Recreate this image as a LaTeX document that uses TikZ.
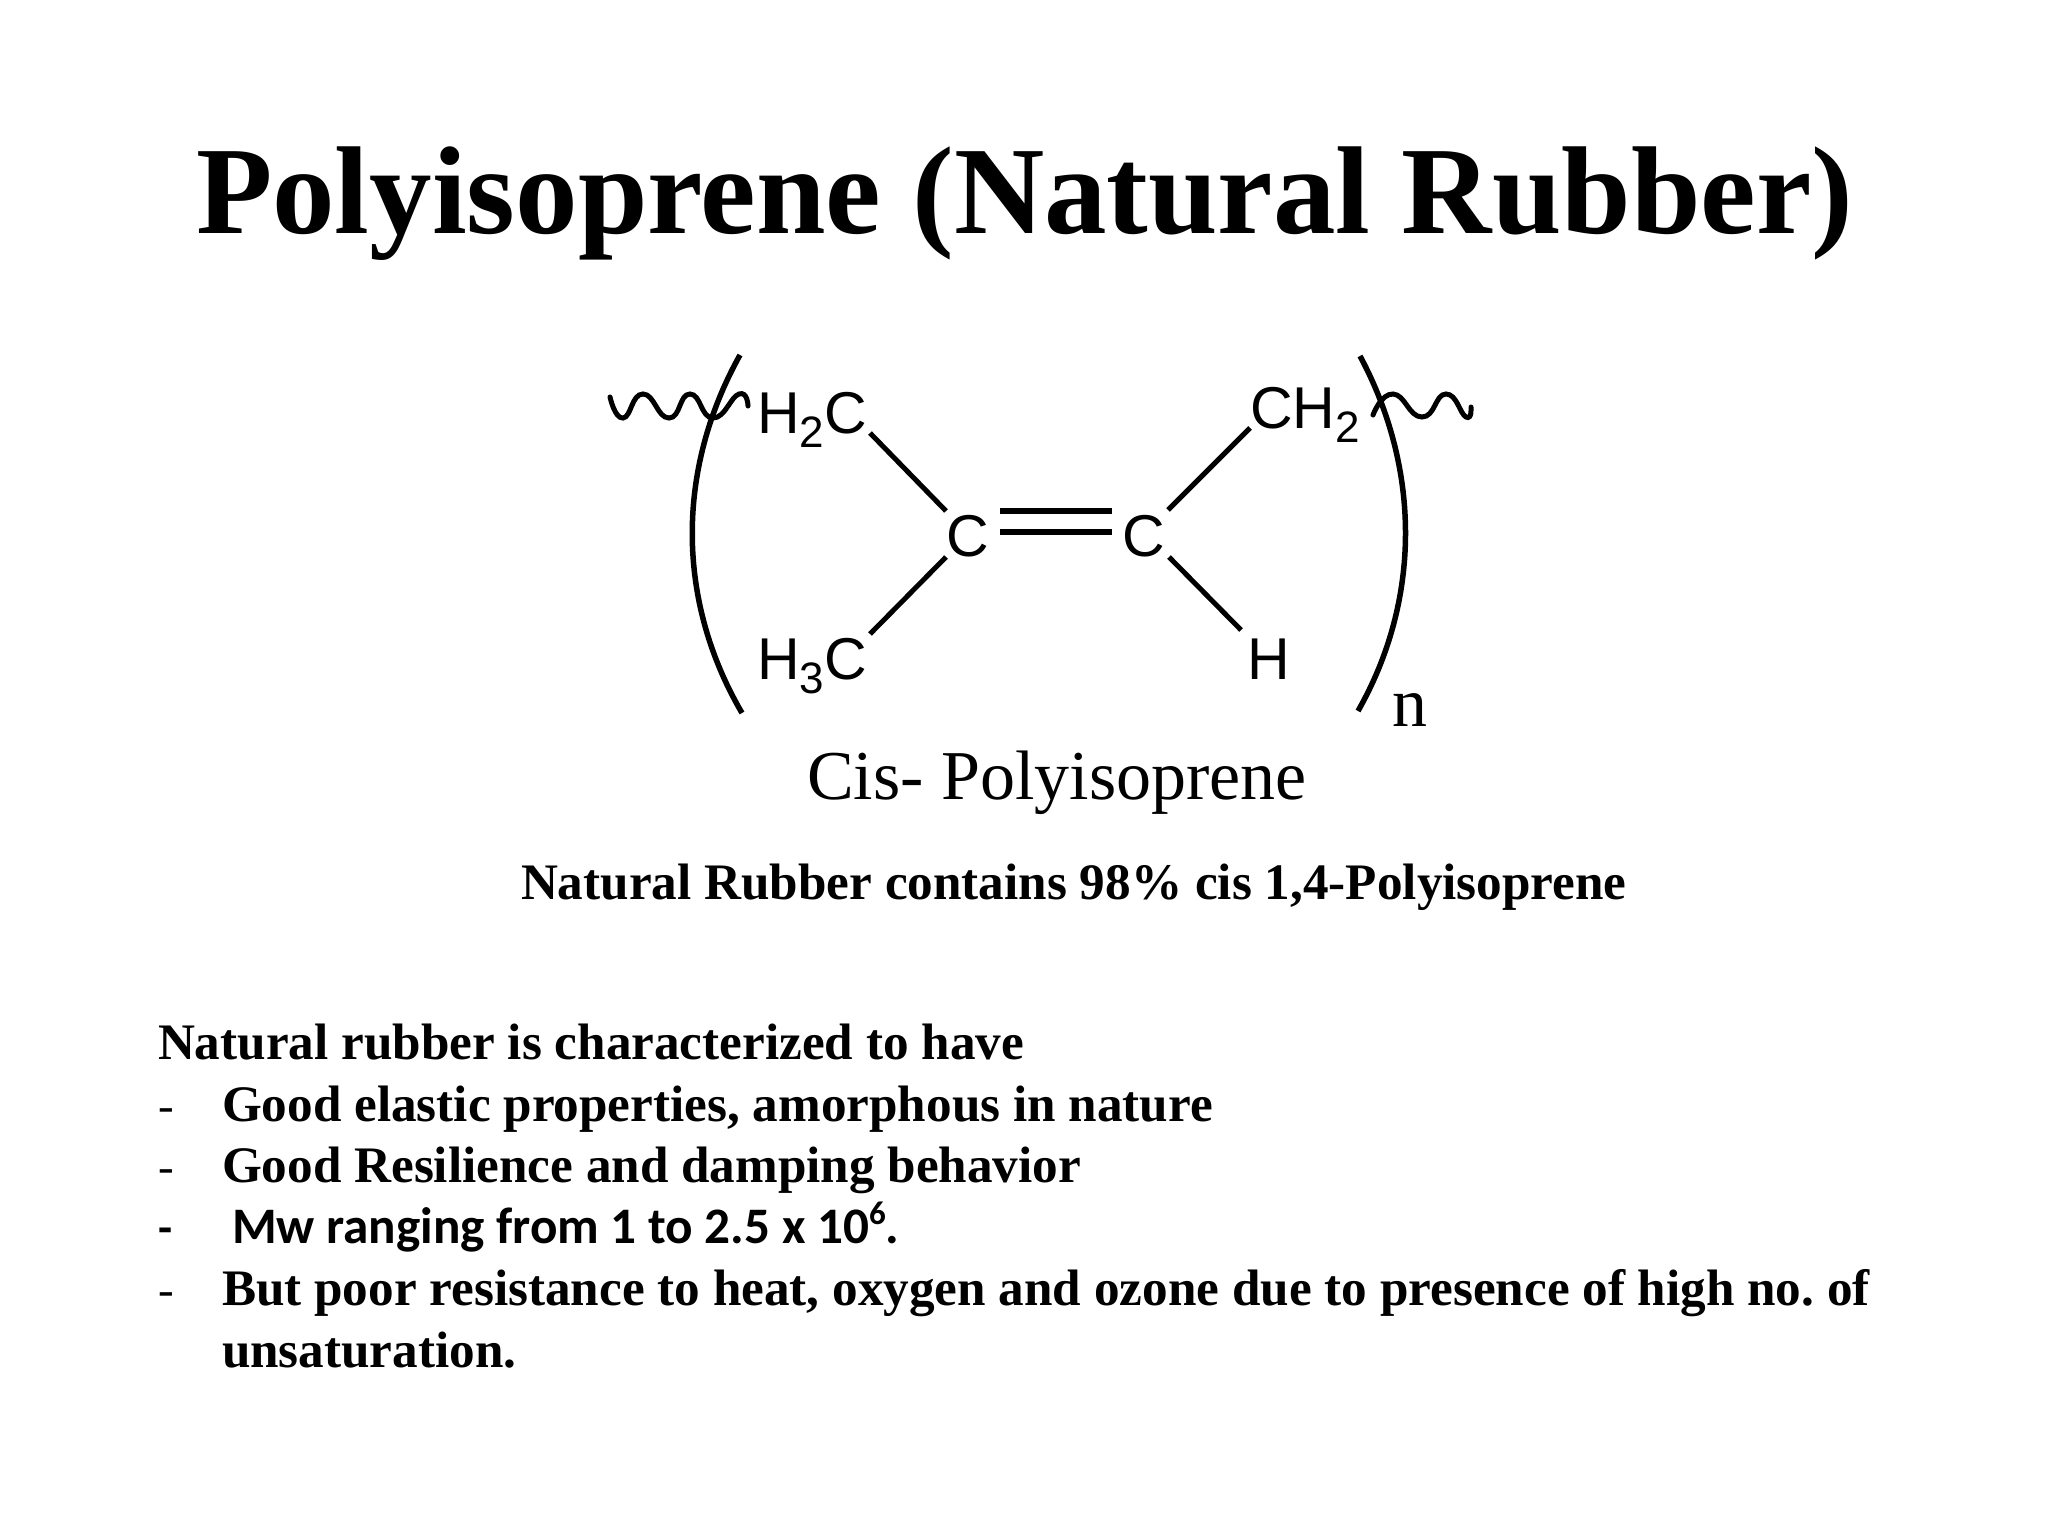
\documentclass[tikz,border=0pt]{standalone}
\usepackage{fontspec}
\setmainfont{Liberation Serif}
\newfontfamily\chemfont{Liberation Sans}
\newfontfamily\calfont{Carlito}
\newcommand{\fsz}[1]{\fontsize{#1}{#1}\selectfont}
\tikzset{
 lbl/.style={anchor=base west,inner sep=0pt,outer sep=0pt},
 chem/.style={lbl,font=\chemfont\fsz{59}},
 bodyb/.style={lbl,font=\bfseries\fsz{51.2}},
 bond/.style={line width=5pt,black},
 brack/.style={line width=5.5pt,black},
 wave/.style={line width=5pt,black,line cap=round},
}
\begin{document}
\frenchspacing
\begin{tikzpicture}[x=1pt,y=-1pt]
\useasboundingbox (0,0) rectangle (2048,1536);
\node[lbl,font=\bfseries\fsz{125}] (title) at (196,233) {Polyisoprene (Natural Rubber)};
% brackets
\coordinate (lbt) at (740,355); \coordinate (lbb) at (742,713);
\coordinate (rbt) at (1360,356); \coordinate (rbb) at (1358,711);
\draw[brack] (lbt) .. controls (676,470) and (676,600) .. (lbb);
\draw[brack] (rbt) .. controls (1421,470) and (1421,600) .. (rbb);
% waves
\draw[wave] plot[smooth,tension=0.9] coordinates {(610,397) (623,418) (643,394) (669,418) (690,394) (713,418) (739,394) (748,406)};
\draw[wave] plot[smooth,tension=0.9] coordinates {(1373,415) (1393,394) (1422,417) (1446,394) (1466,417) (1471,407)};
% atoms
\node[chem] (h2c) at (757,433) {H\raisebox{-0.24em}{\fsz{44}2}C};
\node[chem] (h3c) at (757,679) {H\raisebox{-0.24em}{\fsz{44}3}C};
\node[chem] (ch2) at (1250,428) {CH\raisebox{-0.24em}{\fsz{44}2}};
\node[chem,anchor=base] (c1) at (968,556) {C};
\node[chem,anchor=base] (c2) at (1144,556) {C};
\node[chem] (h) at (1247,679) {H};
\node[lbl,font=\fsz{70}] (n) at (1392,726) {n};
% bonds
\coordinate (a1) at (870,433); \coordinate (a2) at (946,511);
\coordinate (b1) at (870,634); \coordinate (b2) at (946,557);
\coordinate (d1) at (1250,428); \coordinate (d2) at (1168,510);
\coordinate (e1) at (1169,557); \coordinate (e2) at (1241,630);
\draw[bond] (a1) -- (a2);
\draw[bond] (b1) -- (b2);
\draw[bond] (d1) -- (d2);
\draw[bond] (e1) -- (e2);
\coordinate (f1) at (1000,511); \coordinate (f2) at (1112,511);
\coordinate (g1) at (1000,532); \coordinate (g2) at (1112,532);
\draw[bond,line width=5.5pt] (f1) -- (f2);
\draw[bond,line width=5.5pt] (g1) -- (g2);
% captions
\node[lbl,font=\fsz{70}] (cis) at (807,799) {Cis- Polyisoprene};
\node[bodyb] (nat) at (521,899) {Natural Rubber contains 98\% cis 1,4-Polyisoprene};
\node[bodyb] (l0) at (158,1059) {Natural rubber is characterized to have};
\node[lbl,font=\fsz{47}] (d1t) at (158,1121) {-};
\node[bodyb] (l1) at (222,1121) {Good elastic properties, amorphous in nature};
\node[lbl,font=\fsz{47}] (d2t) at (158,1182) {-};
\node[bodyb] (l2) at (222,1182) {Good Resilience and damping behavior};
\node[lbl,font=\calfont\bfseries\fsz{46}] (d3t) at (158,1243) {-};
\node[lbl,font=\calfont\bfseries\fsz{51.2}] (l3) at (232,1243) {Mw ranging from 1 to 2.5 x 10\raisebox{0.36em}{\fsz{33}6}.};
\node[lbl,font=\fsz{47}] (d4t) at (158,1305) {-};
\node[bodyb] (l4) at (222,1305) {But poor resistance to heat, oxygen and ozone due to presence of high no. of};
\node[bodyb] (l5) at (222,1367) {unsaturation.};
\end{tikzpicture}
\end{document}
